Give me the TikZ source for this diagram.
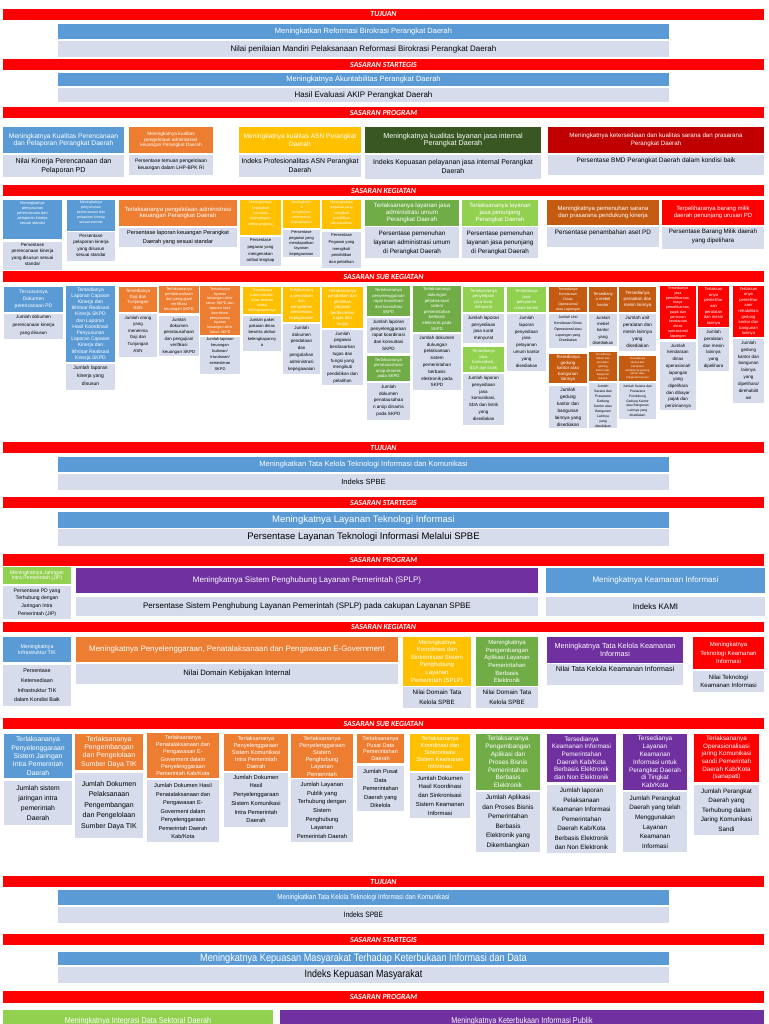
\documentclass[tikz,border=0pt]{standalone}
\usepackage{fontspec}
\setmainfont{Liberation Sans}
\newfontfamily\calib{Carlito}
\newfontfamily\narrowf[FakeStretch=0.85]{Liberation Sans}
\definecolor{cblue}{HTML}{5B9BD5}
\definecolor{clight}{HTML}{D6DCEB}
\definecolor{corange}{HTML}{ED7D31}
\definecolor{cyellow}{HTML}{FFC000}
\definecolor{cdkgreen}{HTML}{385723}
\definecolor{cdkred}{HTML}{C00000}
\definecolor{cmgreen}{HTML}{70AD47}
\definecolor{clgreen}{HTML}{92D050}
\definecolor{cbrown}{HTML}{C55A11}
\definecolor{cred}{HTML}{FF0000}
\definecolor{cpurple}{HTML}{7030A0}
\tikzset{
  box/.style={draw=none,inner sep=0pt,outer sep=0pt,anchor=center},
  cb/.style={fill=#1,text=white},
  lb/.style={fill=clight,text=black},
  fs/.style 2 args={font=\fontsize{#1}{#2}\selectfont},
  rbar/.style={fill=cred,text=white,minimum width=761pt,inner sep=0pt,outer sep=0pt,
    font=\calib\bfseries\itshape\fontsize{7.8}{8}\selectfont}
}
\newcommand\bx[8]{%
  \pgfmathsetmacro\bw{#4-#2}%
  \pgfmathsetmacro\bh{#5-#3}%
  \pgfmathsetmacro\bcx{(#2+#4)/2}%
  \pgfmathsetmacro\bcy{(#3+#5)/2}%
  \pgfmathsetmacro\btw{max(#4-#2-1,1)}%
  \pgfmathsetmacro\bth{max(#5-#3-2,1)}%
  \node[box,#6,minimum width=\bw pt,minimum height=\bh pt] (#1) at (\bcx,\bcy)
    {\begin{minipage}[c][\bth pt][#7]{\btw pt}\centering #8\end{minipage}};}
\newcommand\rb[4]{%
  \pgfmathsetmacro\bcy{(#2+#3)/2}%
  \pgfmathsetmacro\bh{#3-#2}%
  \node[rbar,minimum height=\bh pt] (#1) at (383.5,\bcy) {#4};}
\begin{document}
\begin{tikzpicture}[x=1pt,y=-1pt]
\useasboundingbox (0,0) rectangle (768,1024);
\clip (0,0) rectangle (768,1024);
\fill[white] (0,0) rectangle (768,1024);
% ================= SECTION 1
\rb{r1}{9}{20}{TUJUAN}
\bx{a1}{58}{24}{669}{39}{cb=cblue,fs={7.5}{9}}{c}{Meningkatkan Reformasi Birokrasi Perangkat Daerah}
\bx{a2}{58}{41}{669}{57}{lb,fs={8}{9.6}}{c}{Nilai penilaian Mandiri Pelaksanaan Reformasi Birokrasi Perangkat Daerah}
\rb{r2}{59}{70}{SASARAN STARTEGIS}
\bx{a3}{58}{73}{669}{86}{cb=cblue,fs={7.5}{9}}{c}{Meningkatnya Akuntabilitas Perangkat Daerah}
\bx{a4}{58}{88}{669}{102}{lb,fs={8}{9.6}}{c}{Hasil Evaluasi AKIP Perangkat Daerah}
\rb{r3}{107}{118}{SASARAN PROGRAM}
\bx{p1}{3}{127}{124}{153}{cb=cblue,fs={6.7}{7.2}}{c}{Meningkatnya Kualitas Perencanaan\\dan Pelaporan Perangkat Daerah}
\bx{p1i}{3}{155}{124}{177}{lb,fs={7.1}{9}}{c}{Nilai Kinerja Perencanaan dan\\Pelaporan PD}
\bx{p2}{129}{127}{213}{153}{cb=corange,fs={4.8}{5.6}}{c}{Meningkatnya kualitas\\pengelolaan administrasi\\keuangan Perangkat Daerah}
\bx{p2i}{129}{155}{213}{175}{lb,fs={5}{7}}{c}{Persentase temuan pengelolaan\\keuangan dalam LHP-BPK RI}
\bx{p3}{239}{127}{361}{153}{cb=cyellow,fs={6.6}{7.6}}{c}{Meningkatnya kualitas ASN Perangkat\\Daerah}
\bx{p3i}{239}{155}{361}{177}{lb,fs={6.9}{9}}{c}{Indeks Profesionalitas ASN Perangkat\\Daerah}
\bx{p4}{365}{127}{541}{153}{cb=cdkgreen,fs={7.2}{7.6}}{c}{Meningkatnya kualitas layanan jasa internal\\Perangkat Daerah}
\bx{p4i}{365}{155}{541}{179}{lb,fs={6.9}{9}}{c}{Indeks Kepuasan pelayanan jasa internal Perangkat\\Daerah}
\bx{p5}{548}{127}{764}{153}{cb=cdkred,fs={6.2}{8}}{c}{Meningkatnya ketersediaan dan kualitas sarana dan prasarana\\Perangkat Daerah}
\bx{p5i}{548}{155}{764}{175}{lb,fs={6.5}{7}}{t}{\vspace{1.5pt}Persentase BMD Perangkat Daerah dalam kondisi baik}
\rb{r4}{185}{196}{SASARAN KEGIATAN}
\bx{k1}{3}{200}{62}{239}{cb=cblue,fs={3.9}{4.8}}{t}{\vspace{1pt}Meningkatnya\\penyusunan\\perencanaan dan\\pelaporan kinerja\\sesuai standar}
\bx{k1i}{3}{242}{62}{270}{lb,fs={4.6}{6.5}}{t}{Persentase\\perencanaan kinerja\\yang disusun sesuai\\standar}
\bx{k2}{67}{200}{115}{231}{cb=cblue,fs={3.6}{5}}{t}{Meningkatnya\\penyusunan\\perencanaan dan\\pelaporan kinerja\\sesuai standar}
\bx{k2i}{67}{232}{115}{261}{lb,fs={4.6}{6.6}}{t}{\vspace{1pt}Persentase\\pelaporan kinerja\\yang disusun\\sesuai standar}
\bx{k3}{119}{200}{237}{226}{cb=corange,fs={6}{6.8}}{c}{Terlaksananya pengelolaan administrasi\\keuangan Perangkat Daerah}
\bx{k3i}{119}{228}{237}{247}{lb,fs={5.6}{8.3}}{c}{Persentase laporan keuangan Perangkat\\Daerah yang sesuai standar}
\bx{k4}{240}{200}{281}{235}{cb=cyellow,fs={3.6}{5.4}}{t}{Meningkatnya\\kepatuhan\\terhadap\\kelengkapan\\atribut pegawai}
\bx{k4i}{240}{237}{281}{266}{lb,fs={4.2}{6.6}}{t}{\vspace{1pt}Persentase\\pegawai yang\\mengenakan\\atribut lengkap}
\bx{k5}{283}{200}{320}{228}{cb=cyellow,fs={3.5}{5}}{t}{Meningkatny\\a\\pengelolaan\\administrasi\\kepegawaian}
\bx{k5i}{283}{230}{320}{257}{lb,fs={4}{5.4}}{t}{Persentase\\pegawai yang\\mendapatkan\\layanan\\kepegawaian}
\bx{k6}{322}{200}{361}{229}{cb=cyellow,fs={3.6}{5.2}}{t}{Meningkatnya\\pegawai yang\\mengikuti\\pendidikan\\dan pelatihan}
\bx{k6i}{322}{232}{361}{268}{lb,fs={4.1}{6.6}}{t}{\vspace{1pt}Persentase\\Pegawai yang\\mengikuti\\pendidikan\\dan pelatihan}
\bx{k7}{365}{200}{459}{226}{cb=cmgreen,fs={6.2}{6.8}}{c}{Terlaksananya layanan jasa\\administrasi umum\\Perangkat Daerah}
\bx{k7i}{365}{227}{459}{258}{lb,fs={6.3}{9}}{c}{Persentase pemenuhan\\layanan administrasi umum\\di Perangkat Daerah}
\bx{k8}{462}{200}{538}{226}{cb=clgreen,fs={6}{6.8}}{c}{Terlaksananya layanan\\jasa penunjang\\Perangkat Daerah}
\bx{k8i}{462}{227}{538}{258}{lb,fs={6.3}{9}}{c}{Persentase pemenuhan\\layanan jasa penunjang\\di Perangkat Daerah}
\bx{k9}{547}{200}{659}{225}{cb=cbrown,fs={6}{6.5}}{c}{Meningkatnya pemenuhan sarana\\dan prasarana pendukung kinerja}
\bx{k9i}{547}{227}{659}{247}{lb,fs={6.4}{7}}{t}{\vspace{2pt}Persentase penambahan aset PD}
\bx{k10}{662}{200}{764}{225}{cb=cred,fs={6}{7}}{c}{Terpeliharanya barang milik\\daerah penunjang urusan PD}
\bx{k10i}{662}{227}{764}{249}{lb,fs={6.2}{9.5}}{t}{\vspace{1pt}Persentase Barang Milik daerah\\yang dipelihara}
\rb{r5}{271}{282}{SASARAN SUB KEGIATAN}
\bx{s1}{4}{287}{63}{312}{cb=cblue,fs={5}{6.8}}{c}{Tersusunnya\\Dokumen\\perencanaan PD}
\bx{s1i}{4}{314}{63}{339}{lb,fs={4.6}{8}}{t}{Jumlah dokumen\\perencanaan kinerja\\yang disusun}
\bx{s2}{66}{286}{115}{362}{cb=cblue,fs={5}{6.2}}{c}{Tersedianya\\Laporan Capaian\\Kinerja dan\\Ikhtisar Realisasi\\Kinerja SKPD\\dan Laporan\\Hasil Koordinasi\\Penyusunan\\Laporan Capaian\\Kinerja dan\\Ikhtisar Realisasi\\Kinerja SKPD}
\bx{s2i}{66}{364}{115}{390}{lb,fs={5}{8}}{t}{\vspace{1pt}Jumlah laporan\\kinerja yang\\disusun}
\bx{s3}{119}{287}{157}{312}{cb=corange,fs={4.5}{5.6}}{c}{Tersedianya\\Gaji dan\\Tunjangan\\ASN}
\bx{s3i}{119}{314}{157}{357}{lb,fs={4.4}{6.6}}{t}{\vspace{1pt}Jumlah orang\\yang\\menerima\\Gaji dan\\Tunjangan\\ASN}
\bx{s4}{159}{286}{199}{313}{cb=corange,fs={4}{5.2}}{c}{Terlaksananya\\penatausahaan\\dan pengujian/\\verifikasi\\keuangan SKPD}
\bx{s4i}{159}{316}{199}{356}{lb,fs={4.4}{6.4}}{t}{\vspace{1pt}Jumlah\\dokumen\\penatausahaan\\dan pengujian/\\verifikasi\\keuangan SKPD}
\bx{s5}{200}{286}{240}{335}{cb=corange,fs={3.7}{4.8}}{c}{Tersedianya\\laporan\\keuangan akhir\\tahun SKPD dan\\laporan hasil\\koordinasi\\penyusunan\\laporan\\keuangan akhir\\Tahun SKPD}
\bx{s5i}{200}{337}{240}{374}{lb,fs={4}{6}}{t}{Jumlah laporan\\keuangan\\bulanan/\\triwulanan/\\semesteran\\SKPD}
\bx{s6}{243}{287}{281}{314}{cb=cyellow,fs={3.7}{5}}{c}{Tersedianya\\paket pakaian\\dinas beserta\\atribut\\kelengkapannya}
\bx{s6i}{243}{316}{281}{351}{lb,fs={4.2}{6.4}}{t}{\vspace{1pt}Jumlah paket\\pakaian dinas\\beserta atribut\\kelengkapanny\\a}
\bx{s7}{283}{287}{320}{322}{cb=cyellow,fs={4.1}{5.5}}{c}{Terlaksanany\\a pendataan\\dan\\pengolahan\\administrasi\\kepegawaian}
\bx{s7i}{283}{324}{320}{374}{lb,fs={4.5}{6.8}}{t}{\vspace{1pt}Jumlah\\dokumen\\pendataan\\dan\\pengolahan\\administrasi\\kepegawaian}
\bx{s8}{322}{287}{363}{328}{cb=cyellow,fs={4.3}{5.5}}{c}{Terlaksananya\\pendidikan dan\\pelatihan\\pegawai\\berdasarkan\\tugas dan\\fungsi}
\bx{s8i}{322}{330}{363}{385}{lb,fs={4.5}{6.7}}{t}{\vspace{1pt}Jumlah\\pegawai\\berdasarkan\\tugas dan\\fungsi yang\\mengikuti\\pendidikan dan\\pelatihan}
\bx{s9}{367}{286}{410}{316}{cb=cmgreen,fs={4.2}{5.5}}{c}{Terlaksananya\\penyelenggaraan\\rapat koordinasi\\dan konsultasi\\SKPD}
\bx{s9i}{367}{318}{410}{353}{lb,fs={4.6}{6.8}}{t}{\vspace{1pt}Jumlah laporan\\penyelenggaraan\\rapat koordinasi\\dan konsultasi\\SKPD}
\bx{s10}{367}{356}{410}{381}{cb=cmgreen,fs={4.2}{5.5}}{c}{Terlaksananya\\penatausahaan\\arsip dinamis\\pada SKPD}
\bx{s10i}{367}{383}{410}{420}{lb,fs={4.6}{6.8}}{t}{\vspace{1pt}Jumlah\\dokumen\\penatausahaa\\n arsip dinamis\\pada SKPD}
\bx{s11}{413}{286}{461}{332}{cb=cmgreen,fs={4.3}{5.6}}{c}{Terlaksananya\\dukungan\\pelaksanaan\\sistem\\pemerintahan\\berbasis\\elektronik pada\\SKPD}
\bx{s11i}{413}{334}{461}{390}{lb,fs={4.6}{6.8}}{t}{\vspace{1pt}Jumlah dokumen\\dukungan\\pelaksanaan\\sistem\\pemerintahan\\berbasis\\elektronik pada\\SKPD}
\bx{s12}{463}{287}{504}{312}{cb=clgreen,fs={4.2}{5.5}}{c}{Terlaksananya\\penyediaan\\jasa surat\\menyurat}
\bx{s12i}{463}{314}{504}{343}{lb,fs={4.6}{6.8}}{t}{\vspace{1pt}Jumlah laporan\\penyediaan\\jasa surat\\menyurat}
\bx{s13}{463}{347}{504}{372}{cb=clgreen,fs={4.2}{5.5}}{c}{Tersedianya\\jasa\\komunikasi,\\SDA dan listrik}
\bx{s13i}{463}{374}{504}{425}{lb,fs={4.5}{6.9}}{t}{\vspace{1pt}Jumlah laporan\\penyediaan\\jasa\\komunikasi,\\SDA dan listrik\\yang\\disediakan}
\bx{s14}{507}{287}{546}{312}{cb=clgreen,fs={4.2}{5.5}}{c}{Tersedianya\\jasa\\pelayanan\\umum kantor}
\bx{s14i}{507}{314}{546}{371}{lb,fs={4.5}{6.9}}{t}{\vspace{1pt}Jumlah\\laporan\\penyediaan\\jasa\\pelayanan\\umum kantor\\yang\\disediakan}
\bx{s15}{549}{287}{587}{312}{cb=cbrown,fs={3.6}{4.8}}{c}{Tersedianya\\Kendaraan\\Dinas\\Operasional\\atau Lapangan}
\bx{s15i}{549}{314}{587}{348}{lb,fs={3.6}{5.8}}{t}{\vspace{1pt}Jumlah Unit\\Kendaraan Dinas\\Operasional atau\\Lapangan yang\\Disediakan}
\bx{s16}{549}{354}{587}{383}{cb=cbrown,fs={4.4}{5.6}}{c}{Tersedianya\\gedung\\kantor atau\\bangunan\\lainnya}
\bx{s16i}{549}{386}{587}{428}{lb,fs={4.7}{7}}{t}{\vspace{1pt}Jumlah\\gedung\\kantor dan\\bangunan\\lainnya yang\\disediakan}
\bx{s17}{589}{287}{617}{312}{cb=cbrown,fs={4.1}{5.6}}{c}{Tersediany\\a mebel\\kantor}
\bx{s17i}{589}{314}{617}{346}{lb,fs={4.3}{6.4}}{t}{\vspace{1pt}Jumlah\\mebel\\kantor\\yang\\disediakan}
\bx{s18}{589}{352}{617}{381}{cb=cbrown,fs={2.8}{4}}{c}{Tersedianya\\bahan dan\\peralatan\\gedung\\kantor atau\\bangunan\\lainnya}
\bx{s18i}{589}{383}{617}{428}{lb,fs={3.4}{5}}{t}{\vspace{1pt}Jumlah\\Sarana dan\\Prasarana\\Gedung\\Kantor atau\\Bangunan\\Lainnya\\yang\\disediakan}
\bx{s19}{619}{287}{656}{312}{cb=cbrown,fs={4.5}{6.3}}{c}{Tersedianya\\peralatan dan\\mesin lainnya}
\bx{s19i}{619}{314}{656}{351}{lb,fs={4.7}{7}}{t}{\vspace{1pt}Jumlah unit\\peralatan dan\\mesin lainnya\\yang\\disediakan}
\bx{s20}{619}{356}{656}{381}{cb=cbrown,fs={2.8}{3.8}}{c}{Tersedianya\\sarana dan\\prasarana\\pendukung gedung\\kantor atau\\bangunan lainnya}
\bx{s20i}{619}{383}{656}{419}{lb,fs={3.3}{4.9}}{t}{\vspace{1pt}Jumlah Sarana dan\\Prasarana\\Pendukung\\Gedung Kantor\\atau Bangunan\\Lainnya yang\\disediakan}
\bx{s21}{660}{286}{696}{339}{cb=cred,fs={3.8}{4.75}}{c}{Tersedianya\\jasa\\pemeliharaan,\\biaya\\pemeliharaan,\\pajak dan\\perizinan\\kendaraan\\dinas\\operasional\\lapangan}
\bx{s21i}{660}{342}{696}{410}{lb,fs={4.5}{6.7}}{t}{\vspace{1pt}Jumlah\\kendaraan\\dinas\\operasional/\\lapangan\\yang\\dipelihara\\dan dibayar\\pajak dan\\perizinannya}
\bx{s22}{698}{286}{729}{327}{cb=cred,fs={4.2}{5.7}}{c}{Terlaksan\\anya\\pemelihar\\aan\\peralatan\\dan mesin\\lainnya}
\bx{s22i}{698}{328}{729}{371}{lb,fs={4.5}{6.9}}{t}{\vspace{1pt}Jumlah\\peralatan\\dan mesin\\lainnya\\yang\\dipelihara}
\bx{s23}{733}{286}{764}{337}{cb=cred,fs={4.2}{5.6}}{c}{Terlaksan\\anya\\pemelihar\\aan/\\rehabilitasi\\gedung\\kantor dan\\bangunan\\lainnya}
\bx{s23i}{733}{339}{764}{403}{lb,fs={4.5}{6.9}}{t}{\vspace{1pt}Jumlah\\gedung\\kantor dan\\bangunan\\lainnya\\yang\\dipelihara/\\direhabilit\\asi}
% ================= SECTION 2
\rb{r6}{442}{453}{TUJUAN}
\bx{b1}{58}{457}{669}{472}{cb=cblue,fs={7.5}{9}}{c}{Meningkatkan Tata Kelola Teknologi Informasi dan Komunikasi}
\bx{b2}{58}{474}{669}{490}{lb,fs={7.5}{9}}{c}{Indeks SPBE}
\rb{r7}{497}{508}{SASARAN STARTEGIS}
\bx{b3}{58}{512}{669}{528}{cb=cblue,fs={9.5}{11}}{c}{Meningkatnya Layanan Teknologi Informasi}
\bx{b4}{58}{529}{669}{546}{lb,fs={9.5}{11}}{c}{Persentase Layanan Teknologi Informasi Melalui SPBE}
\rb{r8}{554}{566}{SASARAN PROGRAM}
\bx{q1}{3}{567}{71}{584}{cb=clgreen,fs={5.2}{5.6}}{c}{Meningkatnya Jaringan\\Intra Pemerintah (JIP)}
\bx{q1i}{3}{586}{71}{619}{lb,fs={5.1}{7.8}}{c}{Persentase PD yang\\Terhubung dengan\\Jaringan Intra\\Pemerintah (JIP)}
\bx{q2}{76}{568}{538}{593}{cb=cpurple,fs={8}{9.6}}{c}{Meningkatnya Sistem Penghubung Layanan Pemerintah (SPLP)}
\bx{q2i}{76}{597}{538}{616}{lb,fs={8}{9.6}}{c}{Persentase Sistem Penghubung Layanan Pemerintah (SPLP) pada cakupan Layanan SPBE}
\bx{q3}{546}{568}{765}{593}{cb=cblue,fs={8}{9.6}}{c}{Meningkatnya Keamanan Informasi}
\bx{q3i}{546}{597}{765}{616}{lb,fs={8}{9.6}}{c}{Indeks KAMI}
\rb{r9}{622}{632}{SASARAN KEGIATAN}
\bx{g1}{3}{637}{71}{662}{cb=cblue,fs={5.3}{6.5}}{c}{Meningkatnya\\Infrastruktur TIK}
\bx{g1i}{3}{665}{71}{706}{lb,fs={5.4}{9.6}}{c}{Persentase\\Ketersediaan\\Infrastruktur TIK\\dalam Kondisi Baik}
\bx{g2}{76}{637}{398}{662}{cb=corange,fs={7.9}{9}}{c}{Meningkatnya Penyelenggaraan, Penatalaksanaan dan Pengawasan E-Government}
\bx{g2i}{76}{664}{398}{684}{lb,fs={7.7}{9}}{c}{Nilai Domain Kebijakan Internal}
\bx{g3}{403}{637}{471}{686}{cb=cyellow,fs={6}{7.6}}{c}{Meningkatnya\\Koordinasi dan\\Sinkronisasi Sistem\\Penghubung\\Layanan\\Pemerintah (SPLP)}
\bx{g3i}{403}{687}{471}{708}{lb,fs={6.2}{9.5}}{c}{Nilai Domain Tata\\Kelola SPBE}
\bx{g4}{476}{637}{538}{686}{cb=cmgreen,fs={6}{7.6}}{c}{Meningkatnya\\Pengembangan\\Aplikasi Layanan\\Pemerintahan\\Berbasis\\Elektronik}
\bx{g4i}{476}{687}{538}{708}{lb,fs={6.2}{9.5}}{c}{Nilai Domain Tata\\Kelola SPBE}
\bx{g5}{547}{637}{683}{663}{cb=cpurple,fs={7.3}{8.6}}{c}{Meningkatnya Tata Kelola Keamanan\\Informasi}
\bx{g5i}{547}{664}{683}{685}{lb,fs={7.1}{9}}{t}{\vspace{1.5pt}Nilai Tata Kelola Keamanan Informasi}
\bx{g6}{693}{637}{764}{669}{cb=cred,fs={6}{8.5}}{c}{Meningkatnya\\Teknologi Keamanan\\Informasi}
\bx{g6i}{693}{671}{764}{692}{lb,fs={6.1}{8.5}}{c}{Nilai Teknologi\\Keamanan Informasi}
\rb{r10}{718}{729}{SASARAN SUB KEGIATAN}
\bx{u1}{4}{734}{72}{778}{cb=cblue,fs={6.8}{8.3}}{c}{Terlaksananya\\Penyelenggaraan\\Sistem Jaringan\\Intra Pemerintah\\Daerah}
\bx{u1i}{4}{781}{72}{825}{lb,fs={6.8}{9.8}}{c}{Jumlah sistem\\jaringan intra\\pemerintah\\Daerah}
\bx{u2}{75}{734}{143}{770}{cb=corange,fs={7}{8.2}}{c}{Terlaksananya\\Pengembangan\\dan Pengelolaan\\Sumber Daya TIK}
\bx{u2i}{75}{773}{143}{838}{lb,fs={7}{10.5}}{c}{Jumlah Dokumen\\Pelaksanaan\\Pengembangan\\dan Pengelolaan\\Sumber Daya TIK}
\bx{u3}{147}{733}{219}{778}{cb=corange,fs={5.6}{7.2}}{c}{Terlaksananya\\Penatalaksanaan dan\\Pengawasan E-\\Goverment dalam\\Penyelenggaraan\\Pemerintah Kab/Kota}
\bx{u3i}{147}{780}{219}{842}{lb,fs={5.6}{8.5}}{c}{Jumlah Dokumen Hasil\\Penatalaksanaan dan\\Pengawasan E-\\Goverment dalam\\Penyelenggaraan\\Pemerintah Daerah\\Kab/Kota}
\bx{u4}{224}{734}{288}{771}{cb=corange,fs={5.7}{7.2}}{c}{Terlaksananya\\Penyelenggaraan\\Sistem Komunikasi\\Intra Pemerintah\\Daerah}
\bx{u4i}{224}{773}{288}{827}{lb,fs={5.8}{8.7}}{t}{\vspace{1pt}Jumlah Dokumen\\Hasil\\Penyelenggaraan\\Sistem Komunikasi\\Intra Pemerintah\\Daerah}
\bx{u5}{291}{734}{353}{778}{cb=corange,fs={5.8}{7.2}}{c}{Terlaksananya\\Penyelenggaraan\\Sistem\\Penghubung\\Layanan\\Pemerintah}
\bx{u5i}{291}{779}{353}{842}{lb,fs={5.8}{8.7}}{c}{Jumlah Layanan\\Publik yang\\Terhubung dengan\\Sistem\\Penghubung\\Layanan\\Pemerintah Daerah}
\bx{u6}{357}{734}{404}{763}{cb=corange,fs={5.6}{6.8}}{c}{Terlaksananya\\Pusat Data\\Pemerintahan\\Daerah}
\bx{u6i}{357}{766}{404}{811}{lb,fs={5.7}{8.5}}{c}{Jumlah Pusat\\Data\\Pemerintahan\\Daerah yang\\Dikelola}
\bx{u7}{410}{734}{470}{771}{cb=cyellow,fs={5.8}{7.2}}{c}{Terlaksananya\\Koordinasi dan\\Sinkronisasi\\Sistem Keamanan\\Informasi}
\bx{u7i}{410}{773}{470}{818}{lb,fs={5.9}{8.7}}{c}{Jumlah Dokumen\\Hasil Koordinasi\\dan Sinkronisasi\\Sistem Keamanan\\Informasi}
\bx{u8}{476}{734}{540}{790}{cb=cmgreen,fs={6.4}{7.8}}{c}{Terlaksananya\\Pengembangan\\Aplikasi dan\\Proses Bisnis\\Pemerintahan\\Berbasis\\Elektronik}
\bx{u8i}{476}{792}{540}{852}{lb,fs={6.4}{9.5}}{c}{Jumlah Aplikasi\\dan Proses Bisnis\\Pemerintahan\\Berbasis\\Elektronik yang\\Dikembangkan}
\bx{u9}{547}{734}{616}{782}{cb=cpurple,fs={6.4}{7.7}}{c}{Tersedianya\\Keamanan Informasi\\Pemerintahan\\Daerah Kab/Kota\\Berbasis Elektronik\\dan Non Elektronik}
\bx{u9i}{547}{785}{616}{853}{lb,fs={6.3}{9.5}}{c}{Jumlah laporan\\Pelaksanaan\\Keamanan Informasi\\Pemerintahan\\Daerah Kab/Kota\\Berbasis Elektronik\\dan Non Elektronik}
\bx{u10}{623}{734}{687}{790}{cb=cpurple,fs={6.4}{7.8}}{c}{Tersedianya\\Layanan\\Keamanan\\Informasi untuk\\Perangkat Daerah\\di Tingkat\\Kab/Kota}
\bx{u10i}{623}{792}{687}{852}{lb,fs={6.3}{9.6}}{c}{Jumlah Perangkat\\Daerah yang telah\\Menggunakan\\Layanan\\Keamanan\\Informasi}
\bx{u11}{694}{734}{759}{782}{cb=cred,fs={6.3}{7.7}}{c}{Terlaksananya\\Operasionalisasi\\jaring Komunikasi\\sandi Pemerintah\\Daerah Kab/Kota\\(sanapati)}
\bx{u11i}{694}{785}{759}{835}{lb,fs={6.3}{9.6}}{c}{Jumlah Perangkat\\Daerah yang\\Terhubung dalam\\Jaring Komunikasi\\Sandi}
% ================= SECTION 3
\rb{r11}{876}{887}{TUJUAN}
\bx{c1}{58}{890}{669}{905}{cb=cblue,fs={7.3}{8}}{c}{\narrowf Meningkatkan Tata Kelola Teknologi Informasi dan Komunikasi}
\bx{c2}{58}{907}{669}{923}{lb,fs={7.8}{8.5}}{c}{\narrowf Indeks SPBE}
\rb{r12}{934}{945}{SASARAN STARTEGIS}
\bx{c3}{58}{952}{669}{965}{cb=cblue,fs={10.8}{11}}{c}{\narrowf Meningkatnya Kepuasan Masyarakat Terhadap Keterbukaan Informasi dan Data}
\bx{c4}{58}{967}{669}{983}{lb,fs={10.5}{12}}{c}{\narrowf Indeks Kepuasan Masyarakat}
\rb{r13}{991}{1003}{SASARAN PROGRAM}
\bx{c5}{3}{1010}{273}{1032}{cb=clgreen,fs={8.5}{9}}{c}{\narrowf Meningkatnya Integrasi Data Sektoral Daerah}
\bx{c6}{280}{1010}{764}{1032}{cb=cpurple,fs={8.5}{9}}{c}{\narrowf Meningkatnya Keterbukaan Informasi Publik}
\end{tikzpicture}
\end{document}
